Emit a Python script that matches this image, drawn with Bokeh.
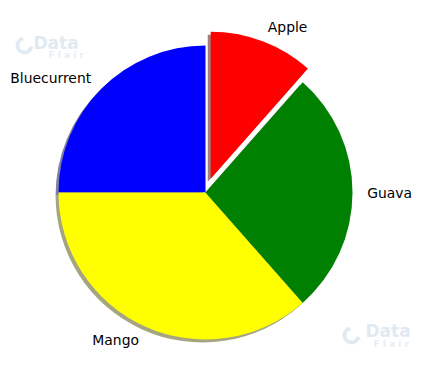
import math
from bokeh.plotting import figure
from bokeh.models import ColumnDataSource, Range1d
from bokeh.embed import file_html
from bokeh.resources import INLINE
from bokeh.core.properties import value

# ---- data (counter-clockwise from 90 degrees) ----
labels = ["Bluecurrent", "Mango", "Guava", "Apple"]
values = [25.0, 36.5, 27.0, 11.5]
colors = ["blue", "yellow", "green", "red"]
explode = [0.0, 0.0, 0.0, 0.1]

W, H = 422, 389
SCALE = 147.0           # pixels per unit radius
CX, CY = 205.0, 192.0   # pie centre in pixels (from top-left)

p = figure(width=W, height=H, output_backend="svg", toolbar_location=None,
           x_range=Range1d(-CX / SCALE, (W - CX) / SCALE),
           y_range=Range1d(-(H - CY) / SCALE, CY / SCALE),
           min_border=0, background_fill_color="white", border_fill_color="white")
p.xaxis.visible = False
p.yaxis.visible = False
p.grid.visible = False
p.outline_line_color = None

RGB = {"blue": (0, 0, 255), "yellow": (255, 255, 0), "green": (0, 128, 0), "red": (255, 0, 0)}

total = sum(values)
start = 90.0
xs, ys, sa, ea, lx, ly, align, shc = [], [], [], [], [], [], [], []
for lab, v, c, e in zip(labels, values, colors, explode):
    span = 360.0 * v / total
    end = start + span
    mid = math.radians((start + end) / 2.0)
    x0 = e * math.cos(mid)
    y0 = e * math.sin(mid)
    xs.append(x0)
    ys.append(y0)
    sa.append(math.radians(start))
    ea.append(math.radians(end))
    lx.append(x0 + 1.1 * math.cos(mid))
    ly.append(y0 + 1.1 * math.sin(mid))
    align.append("left" if math.cos(mid) >= 0 else "right")
    r, g, b = RGB[c]
    shc.append("#%02x%02x%02x" % (int(r * 0.3), int(g * 0.3), int(b * 0.3)))
    start = end

src = ColumnDataSource(dict(x=xs, y=ys, sx=[x - 0.02 for x in xs], sy=[y - 0.02 for y in ys],
                            sa=sa, ea=ea, color=colors, shadow=shc,
                            lx=lx, ly=ly, label=labels, align=align))

# watermarks (faint DataFlair logos)
def px(x, y):
    return ((x - CX) / SCALE, (CY - y) / SCALE)

for (ix, iy), (dx, dy), (fx, fy) in [((24, 45), (33, 42), (48, 54)),
                                     ((351, 335), (365, 330), (373, 343))]:
    cx_, cy_ = px(ix, iy)
    p.annular_wedge(x=cx_, y=cy_, inner_radius=5 / SCALE, outer_radius=9 / SCALE,
                    start_angle=math.radians(100), end_angle=math.radians(350),
                    color="#e1eaf2", line_color=None)
    tx, ty = px(dx, dy)
    p.text(x=[tx], y=[ty], text=["Data"], text_font=value("DejaVu Sans"),
           text_font_style="bold", text_font_size="17px", text_color="#e1eaf2",
           text_baseline="middle", text_align="left")
    tx, ty = px(fx, fy)
    p.text(x=[tx], y=[ty], text=["F l a i r"], text_font=value("DejaVu Sans"),
           text_font_style="bold", text_font_size="9px", text_color="#e6eef4",
           text_baseline="middle", text_align="left")

# shadows
p.wedge(x="sx", y="sy", radius=1.0, start_angle="sa", end_angle="ea",
        direction="anticlock", fill_color="shadow", fill_alpha=0.5,
        line_color=None, source=src)
# slices
p.wedge(x="x", y="y", radius=1.0, start_angle="sa", end_angle="ea",
        direction="anticlock", fill_color="color", line_color=None, source=src)

# labels
p.text(x="lx", y="ly", text="label", text_align="align", text_baseline="middle",
       text_font=value("DejaVu Sans"), text_font_size="13.9px", text_color="black",
       source=src)

open("out.html", "w").write(file_html(p, INLINE))
